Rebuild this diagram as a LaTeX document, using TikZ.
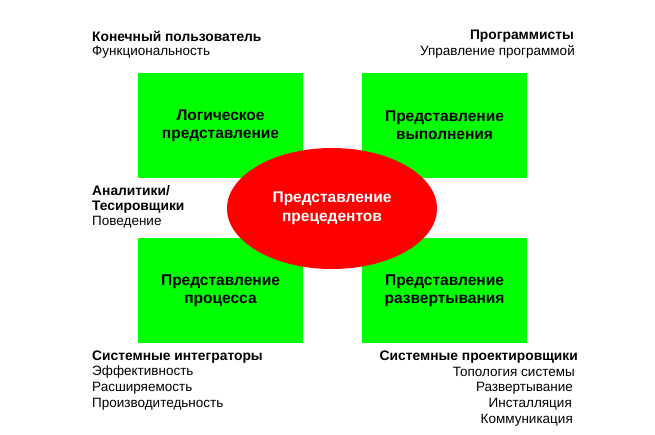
\documentclass[tikz,border=0pt]{standalone}
\usepackage{fontspec}
\setmainfont{Liberation Sans}
\usetikzlibrary{shapes.geometric}
\definecolor{vgreen}{HTML}{00FF00}
\definecolor{vred}{HTML}{FF0000}
\begin{document}
\begin{tikzpicture}[x=1pt,y=-1pt,
  viewbox/.style={fill=vgreen,draw=none,minimum width=165pt,minimum height=105pt,inner sep=0pt,
    font=\fontsize{15.5}{18}\selectfont\bfseries,align=center},
  hubnode/.style={ellipse,fill=vred,draw=none,minimum width=210pt,minimum height=121pt,inner sep=0pt,
    font=\fontsize{15.5}{19}\selectfont\bfseries,text=white,align=center},
  lbl/.style={inner sep=0pt,font=\fontsize{13.5}{16}\selectfont},
  lblb/.style={inner sep=0pt,font=\fontsize{13.8}{16}\selectfont\bfseries}]
\useasboundingbox[fill=white] (0,0) rectangle (655,435);
\node[viewbox] (logic) at (220.5,125.5) {Логическое\\представление};
\node[viewbox] (exec) at (444.5,125.5) {Представление\\выполнения};
\node[viewbox] (proc) at (220.5,290.5) {Представление\\процесса};
\node[viewbox] (depl) at (444.5,290.5) {Представление\\развертывания};
\node[hubnode] (uc) at (332,208.5) {Представление\\прецедентов};
% top-left
\node[lblb,anchor=west] (tl1) at (92,36) {Конечный пользователь};
\node[lbl,anchor=west] (tl2) at (92,52) {Функциональность};
% top-right
\node[lblb,anchor=east] (tr1) at (574,36) {Программисты};
\node[lbl,anchor=east] (tr2) at (575,52) {Управление программой};
% mid-left
\node[lblb,anchor=west] (ml1) at (92,191) {Аналитики/};
\node[lblb,anchor=west] (ml2) at (92,207) {Тесировщики};
\node[lbl,anchor=west] (ml3) at (92,222) {Поведение};
% bottom-left
\node[lblb,anchor=west] (bl1) at (92,357) {Системные интеграторы};
\node[lbl,anchor=west] (bl2) at (92,372) {Эффективность};
\node[lbl,anchor=west] (bl3) at (92,388) {Расширяемость};
\node[lbl,anchor=west] (bl4) at (92,404) {Производитедьность};
% bottom-right
\node[lblb,anchor=east] (br1) at (578,357) {Системные проектировщики};
\node[lbl,anchor=east] (br2) at (575,372) {Топология системы};
\node[lbl,anchor=east] (br3) at (573,388) {Развертывание};
\node[lbl,anchor=east] (br4) at (572,404) {Инсталляция};
\node[lbl,anchor=east] (br5) at (573,420) {Коммуникация};
\end{tikzpicture}
\end{document}
